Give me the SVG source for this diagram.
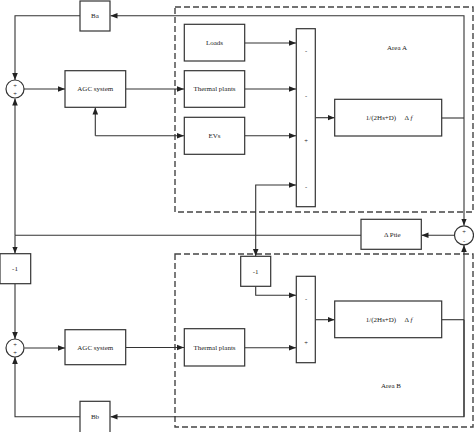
<svg xmlns="http://www.w3.org/2000/svg" width="474" height="432" viewBox="0 0 474 432">
<defs>
<marker id="ar" viewBox="0 0 10 10" refX="10" refY="5" markerWidth="7" markerHeight="7" markerUnits="userSpaceOnUse" orient="auto">
<path d="M0,1 L10,5 L0,9 z" fill="#222"/>
</marker>
</defs>
<style>
.b{fill:#fff;stroke:#333;stroke-width:1.2}
.d{fill:none;stroke:#444;stroke-width:1.4;stroke-dasharray:6 3}
.l{fill:none;stroke:#333;stroke-width:1.1}
.a{marker-end:url(#ar)}
text{font-family:"Liberation Serif","Times New Roman",serif;font-size:7px;fill:#222;text-anchor:middle;dominant-baseline:central}
.s{font-size:6.5px}
</style>
<rect width="474" height="432" fill="#fff"/>
<g id="areaA"><rect class="d" x="175" y="7" width="298" height="205"/><text x="397" y="48">Area A</text></g>
<g id="areaB"><rect class="d" x="175" y="254" width="298" height="173"/><text x="391" y="386">Area B</text></g>
<g id="connectors">
<path class="l a" d="M464,118 V15.7 H110.5"/>
<path class="l a" d="M80,15.7 H15 V80"/>
<path class="l a" d="M24,89 H65"/>
<path class="l a" d="M126,89 H184"/>
<path class="l a" d="M95.3,135.7 V107.5"/>
<path class="l a" d="M95.3,135.7 H184"/>
<path class="l a" d="M245,43 H296"/>
<path class="l a" d="M245,89 H296"/>
<path class="l a" d="M245,135.7 H296"/>
<path class="l a" d="M315.5,117.7 H334.5"/>
<path class="l" d="M441.7,118 H464"/>
<path class="l a" d="M464,118 V225.5"/>
<path class="l a" d="M454.5,235.3 H421.5"/>
<path class="l" d="M361,235.3 H15"/>
<path class="l a" d="M15,235.3 V98.5"/>
<path class="l a" d="M15,235.3 V253.5"/>
<path class="l a" d="M15,283.7 V339"/>
<path class="l a" d="M24.5,348 H65"/>
<path class="l a" d="M126,347.5 H184"/>
<path class="l a" d="M255.7,235.3 V185 H296"/>
<path class="l a" d="M255.7,235.3 V256"/>
<path class="l a" d="M255.7,286.3 V295.3 H296"/>
<path class="l a" d="M245,347.7 H296"/>
<path class="l a" d="M315.5,319.7 H334.5"/>
<path class="l" d="M441.7,319.7 H464"/>
<path class="l a" d="M464,416.7 V245"/>
<path class="l a" d="M464,319.7 V416.7 H110.5"/>
<path class="l a" d="M80,416.7 H15 V357"/>
</g>
<g id="Ba"><rect class="b" x="80" y="1" width="30" height="30"/><text x="95" y="16">Ba</text></g>
<g id="sumA"><circle class="b" cx="15" cy="89" r="9"/><text class="s" x="15" y="85">+</text><text class="s" x="15" y="93">+</text></g>
<g id="agcA"><rect class="b" x="65" y="70.7" width="60.7" height="36.6"/><text x="95.3" y="89">AGC system</text></g>
<g id="loads"><rect class="b" x="184.3" y="24.3" width="60.4" height="36.7"/><text x="214.5" y="43">Loads</text></g>
<g id="thermalA"><rect class="b" x="184.3" y="70.7" width="60.4" height="36.6"/><text x="214.5" y="89">Thermal plants</text></g>
<g id="evs"><rect class="b" x="184.3" y="117.3" width="60.4" height="37"/><text x="214.5" y="135.7">EVs</text></g>
<g id="sumBlockA"><rect class="b" x="296.3" y="28.7" width="19" height="178"/><text class="s" x="306" y="50">-</text><text class="s" x="306" y="95.7">-</text><text class="s" x="306" y="140.3">+</text><text class="s" x="306" y="186.7">-</text></g>
<g id="plantA"><rect class="b" x="334.7" y="99.3" width="107" height="36.7"/><text x="381" y="118">1/(2Hs+D)</text><text x="408.5" y="118">Δ <tspan font-style="italic">f</tspan></text></g>
<g id="sumTie"><circle class="b" cx="464" cy="235.3" r="9.5"/><text class="s" x="464" y="231">+</text><text class="s" x="464" y="240">-</text></g>
<g id="ptie"><rect class="b" x="361" y="219.3" width="60.3" height="30"/><text x="392.3" y="235.3">Δ Ptie</text></g>
<g id="neg1left"><rect class="b" x="0" y="253.7" width="30.7" height="30"/><text x="15" y="269.3">-1</text></g>
<g id="sumB"><circle class="b" cx="15" cy="348" r="9"/><text class="s" x="15" y="344">+</text><text class="s" x="15" y="352">+</text></g>
<g id="agcB"><rect class="b" x="65" y="329.7" width="60.7" height="35"/><text x="95.3" y="347.5">AGC system</text></g>
<g id="thermalB"><rect class="b" x="184.3" y="328.7" width="60.4" height="37.3"/><text x="214.5" y="347.5">Thermal plants</text></g>
<g id="neg1B"><rect class="b" x="240.7" y="256.3" width="30" height="30"/><text x="255.7" y="271.7">-1</text></g>
<g id="sumBlockB"><rect class="b" x="296.3" y="276.3" width="19" height="86.4"/><text class="s" x="306" y="298">-</text><text class="s" x="306" y="342.7">+</text></g>
<g id="plantB"><rect class="b" x="334.7" y="301" width="107" height="36.7"/><text x="381" y="319.7">1/(2Hs+D)</text><text x="408.5" y="319.7">Δ <tspan font-style="italic">f</tspan></text></g>
<g id="Bb"><rect class="b" x="80" y="401.3" width="30" height="32"/><text x="95" y="417">Bb</text></g>
</svg>
